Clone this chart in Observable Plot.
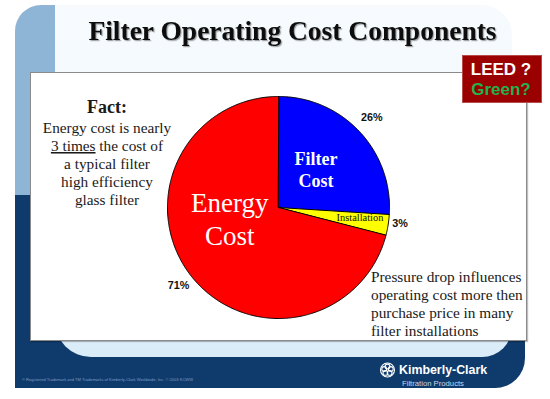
<!DOCTYPE html>
<html>
<head>
<meta charset="utf-8">
<script src="https://cdn.jsdelivr.net/npm/d3@7"></script>
<script src="https://cdn.jsdelivr.net/npm/@observablehq/plot@0.6"></script>
<style>
  html, body { margin: 0; padding: 0; background: #ffffff; }
  #slide { position: relative; width: 550px; height: 399px; overflow: hidden; }
  .abs { position: absolute; }
  #navy { left: 15px; top: 195px; width: 510px; height: 193px; background: #0f3a6c; border-bottom-right-radius: 30px; }
  #band { left: 15px; top: 5px; width: 40px; height: 190px; background: #8fb5d6; border-top-left-radius: 26px; }
  #pale { left: 55px; top: 5px; width: 457px; height: 352px; background: linear-gradient(#f7fbfe, #eef6fc 60%, #d9ecf8); border-radius: 0 30px 30px 36px; }
  #box { left: 30px; top: 72px; width: 497px; height: 269px; box-sizing: border-box; background: #ffffff; border: 1px solid #8a8a8a; box-shadow: 1px 1px 1px rgba(0,0,0,0.25); }
  #leed { left: 462px; top: 55px; width: 80px; height: 48px; box-sizing: border-box; background: #9b0000; border: 1px solid #b84a4a; }
  #chart { left: 0; top: 0; }
  #texts { left: 0; top: 0; pointer-events: none; }
</style>
</head>
<body>
<div id="slide">
  <div id="navy" class="abs"></div>
  <div id="band" class="abs"></div>
  <div id="pale" class="abs"></div>
  <div id="box" class="abs"></div>
  <div id="leed" class="abs"></div>
  <div id="chart" class="abs"></div>
  <svg id="texts" class="abs" width="550" height="399" xmlns="http://www.w3.org/2000/svg">
    <defs>
      <filter id="shadow" x="-5%" y="-20%" width="110%" height="150%">
        <feDropShadow dx="1.2" dy="1.2" stdDeviation="0.6" flood-color="#000" flood-opacity="0.35"/>
      </filter>
    </defs>
    <text x="292.5" y="40" text-anchor="middle" font-family="Liberation Serif, Times New Roman, serif" font-weight="bold" font-size="27.5" fill="#111" filter="url(#shadow)">Filter Operating Cost Components</text>

    <g font-family="Liberation Serif, Times New Roman, serif" fill="#1a1a1a" text-anchor="middle">
      <text x="107" y="113" font-weight="bold" font-size="18">Fact:</text>
      <text x="107" y="133" font-size="15.3">Energy cost is nearly</text>
      <text x="107" y="151" font-size="15.3"><tspan text-decoration="underline">3 times</tspan> the cost of</text>
      <text x="107" y="169" font-size="15.3">a typical filter</text>
      <text x="107" y="187" font-size="15.3">high efficiency</text>
      <text x="107" y="205" font-size="15.3">glass filter</text>
    </g>

    <g font-family="Liberation Serif, Times New Roman, serif" fill="#1a1a1a" font-size="15.3">
      <text x="371" y="282">Pressure drop influences</text>
      <text x="371" y="300">operating cost more then</text>
      <text x="371" y="318">purchase price in many</text>
      <text x="371" y="336">filter installations</text>
    </g>

    <g font-family="Liberation Sans, Arial, sans-serif" font-weight="bold" font-size="17" text-anchor="middle">
      <text x="501" y="75" fill="#ffffff">LEED ?</text>
      <text x="501" y="95" fill="#22b24c">Green?</text>
    </g>

    <g fill="none" stroke="#ffffff" stroke-width="1.1">
      <circle cx="387.5" cy="370" r="7"/>
      <circle cx="387.5" cy="366.5" r="2.4"/>
      <circle cx="390.8" cy="369" r="2.4"/>
      <circle cx="389.6" cy="372.9" r="2.4"/>
      <circle cx="385.4" cy="372.9" r="2.4"/>
      <circle cx="384.2" cy="369" r="2.4"/>
    </g>
    <text x="399" y="374" font-family="Liberation Sans, Arial, sans-serif" font-weight="bold" font-size="12.4" fill="#ffffff">Kimberly-Clark</text>
    <text x="402" y="385.5" font-family="Liberation Sans, Arial, sans-serif" font-size="7.7" fill="#c9d6e6">Filtration Products</text>
    <text x="22" y="380.5" font-family="Liberation Sans, Arial, sans-serif" font-size="4.2" fill="#7f9cc4" textLength="171" lengthAdjust="spacingAndGlyphs">® Registered Trademark and TM Trademarks of Kimberly-Clark Worldwide, Inc. © 2003 KCWW</text>
  </svg>
</div>
<script>
// ---- data ----
const categories = ["Filter Cost", "Installation", "Energy Cost"];
const shares = [26, 3, 71];
const percentLabels = ["26%", "3%", "71%"];
const insideLabels = ["Filter\nCost", "Installation", "Energy\nCost"];

// ---- styles / layout ----
const sliceColors = ["#0000ff", "#ffff00", "#ff0000"];
const outerLayout = [{r: 1.17, shift: -0.9}, {r: 1.105, shift: -1.3}, {r: 1.14, shift: 0}];
const innerLayout = [{r: 0.486, shift: -2.8}, {r: 0.739, shift: -2.2}, {r: 0.45, shift: 25.3}];
const innerStyle = [
  {fill: "#ffffff", fontSize: 18, fontWeight: "bold", lineHeight: 1.22},
  {fill: "#111111", fontSize: 10.4, fontWeight: "normal", lineHeight: 1},
  {fill: "#ffffff", fontSize: 27, fontWeight: "normal", lineHeight: 1.22}
];

const total = d3.sum(shares);
let acc = 0;
const slices = categories.map((c, i) => {
  const a0 = acc / total * 2 * Math.PI;
  acc += shares[i];
  const a1 = acc / total * 2 * Math.PI;
  return {category: c, share: shares[i], a0, a1, mid: (a0 + a1) / 2,
          pct: percentLabels[i], inside: insideLabels[i], i};
});

function polygon(s) {
  const pts = [{x: 0, y: 0}];
  const n = Math.max(2, Math.ceil((s.a1 - s.a0) / (Math.PI / 360)));
  for (let k = 0; k <= n; k++) {
    const a = s.a0 + (s.a1 - s.a0) * k / n;
    pts.push({x: Math.sin(a), y: Math.cos(a)});
  }
  return pts;
}
const deg = Math.PI / 180;
const px = (s, L) => L.r * Math.sin(s.mid + L.shift * deg);
const py = (s, L) => L.r * Math.cos(s.mid + L.shift * deg);

const marks = [];
slices.forEach((s, i) => {
  marks.push(Plot.line(polygon(s), {x: "x", y: "y", fill: sliceColors[i], stroke: "#000000",
    strokeWidth: 1, curve: "linear-closed", strokeLinejoin: "miter"}));
});
marks.push(Plot.text(slices, {
  x: s => px(s, outerLayout[s.i]), y: s => py(s, outerLayout[s.i]), text: "pct",
  fontFamily: "Liberation Sans, Arial, sans-serif", fontWeight: "bold", fontSize: 10.8, fill: "#111111"
}));
slices.forEach((s, i) => {
  const st = innerStyle[i];
  marks.push(Plot.text([s], {
    x: d => px(d, innerLayout[i]), y: d => py(d, innerLayout[i]), text: "inside",
    fontFamily: "Liberation Serif, Times New Roman, serif", fontWeight: st.fontWeight,
    fontSize: st.fontSize, fill: st.fill, lineHeight: st.lineHeight
  }));
});

const cx = 278, cy = 207, R = 111, W = 550, H = 399;
const chart = Plot.plot({
  width: W, height: H,
  marginLeft: cx - R, marginRight: W - (cx + R),
  marginTop: cy - R, marginBottom: H - (cy + R),
  x: {domain: [-1, 1], axis: null},
  y: {domain: [-1, 1], axis: null},
  style: {background: "transparent", overflow: "visible"},
  marks
});
document.getElementById("chart").appendChild(chart);
</script>
</body>
</html>
